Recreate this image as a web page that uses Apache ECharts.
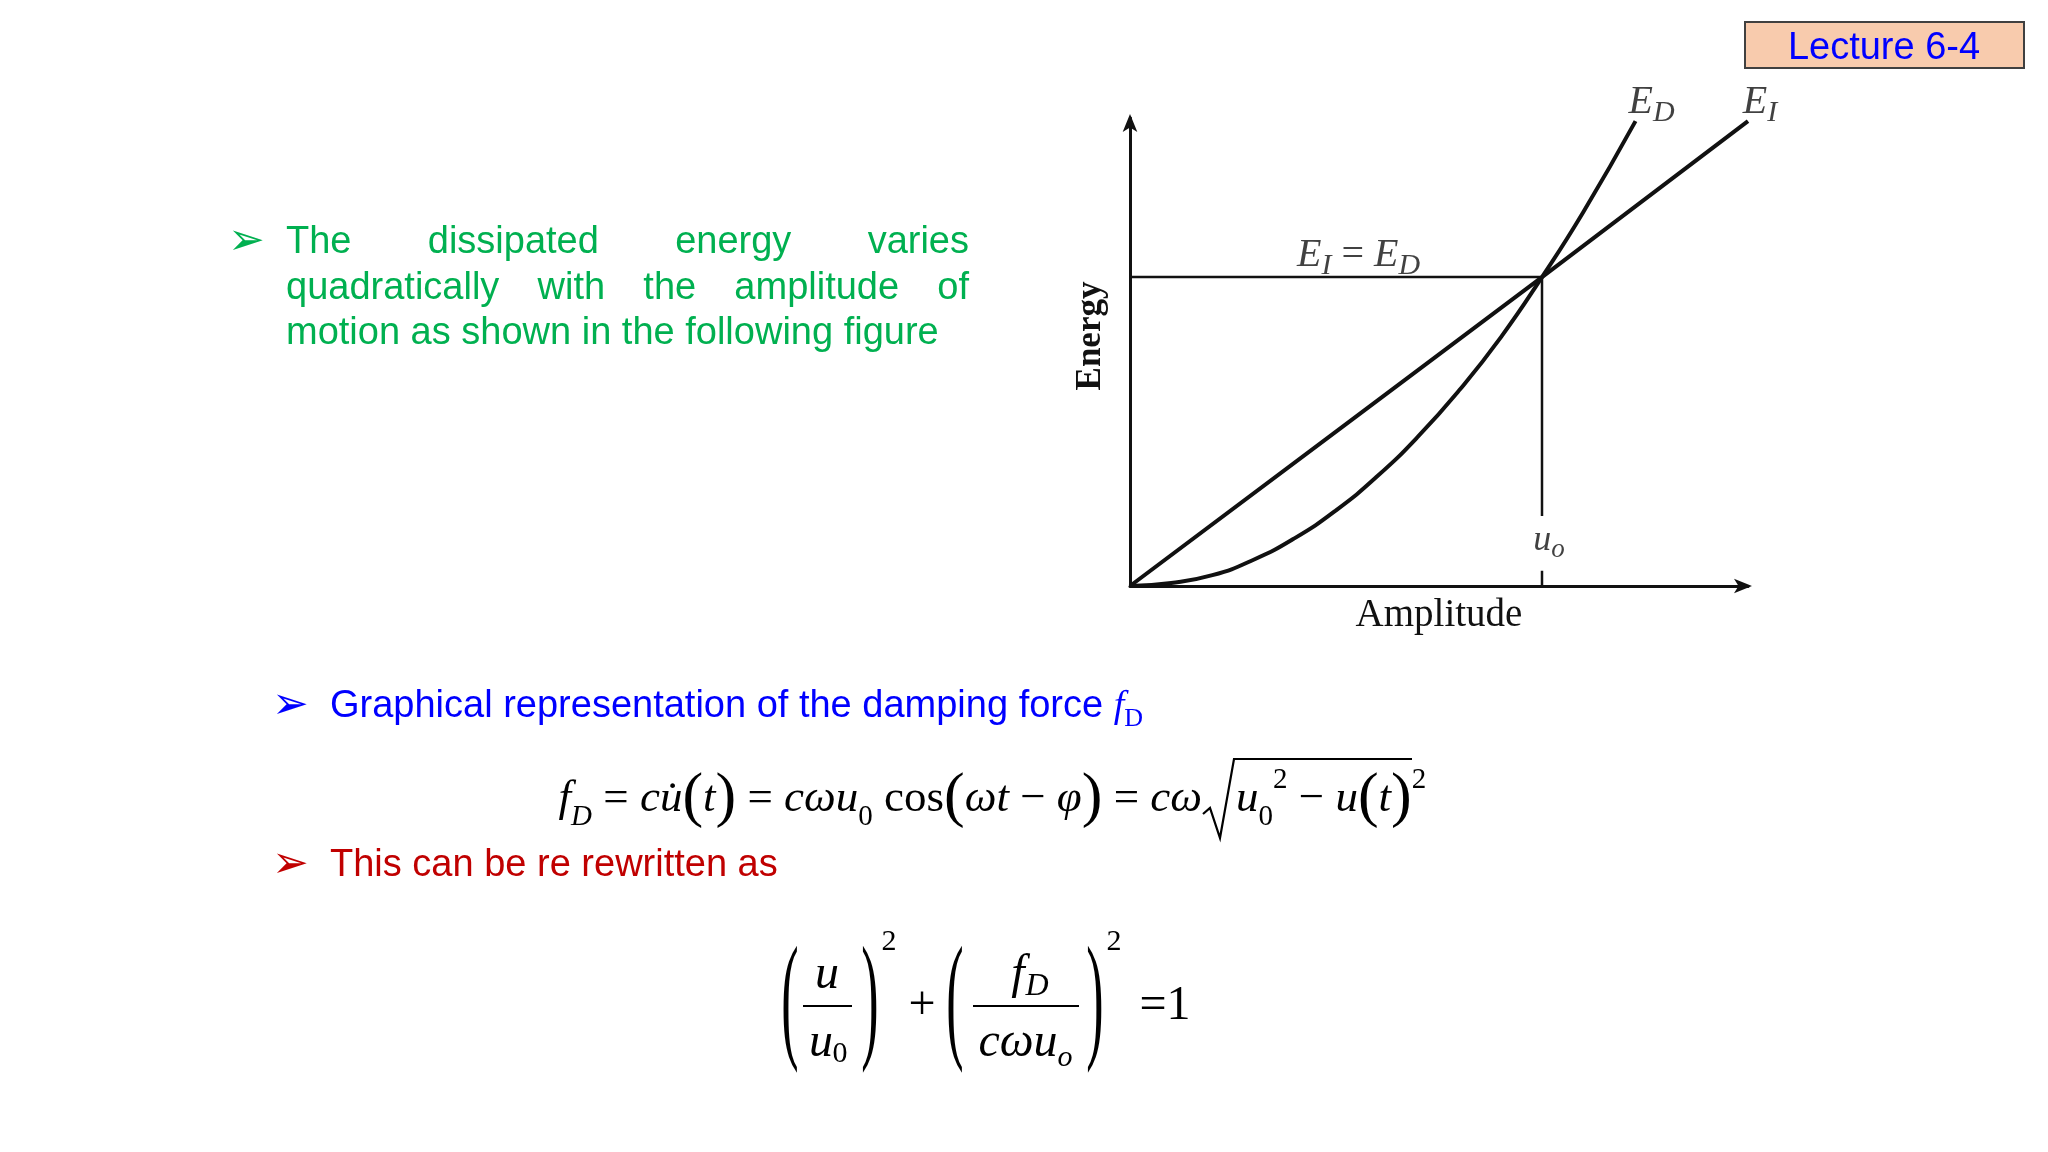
<!DOCTYPE html>
<html><head><meta charset="utf-8">
<script src="https://cdn.jsdelivr.net/npm/echarts@6/dist/echarts.min.js"></script>
<style>html,body{margin:0;padding:0;background:#fff}#c{width:2048px;height:1152px}</style>
</head><body><div id="c"></div>
<script>
// ---- data (u0 = 1, E at crossing = 1) ----
const amplitudeEI = [0, 0.5, 1.0, 1.5];
const energyEI    = [0, 0.5, 1.0, 1.505];
const amplitudeED = [0, 0.1, 0.2, 0.3, 0.4, 0.5, 0.6, 0.7, 0.8, 0.9, 1.0, 1.1, 1.227];
const energyED    = [0, 0.01, 0.035, 0.085, 0.155, 0.245, 0.355, 0.485, 0.635, 0.805, 1.0, 1.21, 1.505];
const u0 = 1.0;
const equalEnergy = 1.0;
const u0LineBottom = 0.227;
const u0TickTop = 0.049;
const u0LabelEnergy = 0.142;
const equalLabelAmp = 0.555;
const xMax = 1.5, yMax = 1.515;
const xName = 'Amplitude', yName = 'Energy';

const SERIF = '"Liberation Serif", "Times New Roman", serif';
const SANS = '"Liberation Sans", Arial, sans-serif';

const pair = (xs, ys) => xs.map((x, i) => [x, ys[i]]);

const chart = echarts.init(document.getElementById('c'));

const mathRich = (size) => ({
  e: {fontFamily: SERIF, fontStyle: 'italic', fontSize: size, color: '#111', lineHeight: size * 1.3},
  s: {fontFamily: SERIF, fontStyle: 'italic', fontSize: size * 0.75, color: '#111', lineHeight: size * 0.95, verticalAlign: 'bottom'},
  n: {fontFamily: SERIF, fontSize: size, color: '#111', lineHeight: size * 1.3}
});

// justified paragraph helper using canvas text measurement
const ctx = document.createElement('canvas').getContext('2d');
function justifyLine(words, left, right, y, font, color, justify) {
  ctx.font = font;
  const els = [];
  if (!justify) {
    els.push({type: 'text', style: {text: words.join(' '), x: left, y: y, font: font, fill: color, verticalAlign: 'middle'}});
    return els;
  }
  const widths = words.map(w => ctx.measureText(w).width);
  const total = widths.reduce((a, b) => a + b, 0);
  const gap = (right - left - total) / (words.length - 1);
  let x = left;
  words.forEach((w, i) => {
    els.push({type: 'text', style: {text: w, x: x, y: y, font: font, fill: color, verticalAlign: 'middle'}});
    x += widths[i] + gap;
  });
  return els;
}

const bodyFont = '38px ' + SANS;
const bulletFont = '44px "DejaVu Sans"';
const green = '#00B050';
const blue = '#0000FF';
const red = '#C00000';
let graphics = [];
graphics.push({type: 'text', style: {text: '➢', x: 228, y: 243, font: bulletFont, fill: green, verticalAlign: 'middle'}});
graphics = graphics.concat(justifyLine(['The', 'dissipated', 'energy', 'varies'], 286, 969, 243, bodyFont, green, true));
graphics = graphics.concat(justifyLine(['quadratically', 'with', 'the', 'amplitude', 'of'], 286, 969, 289, bodyFont, green, true));
graphics = graphics.concat(justifyLine(['motion', 'as', 'shown', 'in', 'the', 'following', 'figure'], 286, 969, 334, bodyFont, green, false));

// blue bullet
graphics.push({type: 'text', style: {text: '➢', x: 272, y: 707, font: bulletFont, fill: blue, verticalAlign: 'middle'}});
graphics.push({type: 'text', style: {
  text: '{a|Graphical representation of the damping force }{f|f}{d|D}', x: 330, y: 707, verticalAlign: 'middle',
  rich: {
    a: {fontFamily: SANS, fontSize: 38, fill: blue, lineHeight: 50},
    f: {fontFamily: SERIF, fontStyle: 'italic', fontSize: 38, fill: blue, lineHeight: 50},
    d: {fontFamily: SERIF, fontSize: 26, fill: blue, lineHeight: 34, verticalAlign: 'bottom'}
  }}});
// red bullet
graphics.push({type: 'text', style: {text: '➢', x: 272, y: 866, font: bulletFont, fill: red, verticalAlign: 'middle'}});
graphics.push({type: 'text', style: {text: 'This can be re rewritten as', x: 330, y: 866, font: bodyFont, fill: red, verticalAlign: 'middle'}});

// Lecture box
graphics.push({type: 'rect', shape: {x: 1745, y: 22, width: 279, height: 46}, style: {fill: '#F8CBAD', stroke: '#404040', lineWidth: 2}});
graphics.push({type: 'text', style: {text: 'Lecture 6-4', x: 1884, y: 49, font: '38px ' + SANS, fill: blue, align: 'center', verticalAlign: 'middle'}});

// formula 1
const F = 45;
const f1rich = {
  i: {fontFamily: SERIF, fontStyle: 'italic', fontSize: F, fill: '#000', lineHeight: 66},
  n: {fontFamily: SERIF, fontSize: F, fill: '#000', lineHeight: 66},
  p: {fontFamily: SERIF, fontSize: 62, fill: '#000', lineHeight: 66},
  sb: {fontFamily: SERIF, fontStyle: 'italic', fontSize: 29, fill: '#000', lineHeight: 40, verticalAlign: 'bottom'},
  sbn: {fontFamily: SERIF, fontSize: 29, fill: '#000', lineHeight: 40, verticalAlign: 'bottom'},
  sp: {fontFamily: SERIF, fontSize: 29, fill: '#000', lineHeight: 42, verticalAlign: 'top'}
};
graphics.push({type: 'text', style: {
  text: '{i|f}{sb|D}{n| = }{i|c}{i|u̇}{p|(}{i|t}{p|)}{n| = }{i|cωu}{sbn|0}{n| cos}{p|(}{i|ωt}{n| − }{i|φ}{p|)}{n| = }{i|cω}',
  x: 1202, y: 799, align: 'right', verticalAlign: 'middle', rich: f1rich}});
graphics.push({type: 'polyline', shape: {points: [[1203, 814], [1210, 808], [1220, 838], [1234, 759], [1412, 759]]}, style: {stroke: '#000', lineWidth: 2.2, fill: null}});
graphics.push({type: 'text', style: {
  text: '{i|u}{sbn|0}{sp|2}{n| − }{i|u}{p|(}{i|t}{p|)}{sp|2}',
  x: 1236, y: 799, align: 'left', verticalAlign: 'middle', rich: f1rich}});

// formula 2
const G = 48;
const it = (t, x, y, size) => ({type: 'text', style: {text: t, x: x, y: y, font: 'italic ' + (size || G) + 'px ' + SERIF, fill: '#000', align: 'center', verticalAlign: 'middle'}});
const up = (t, x, y, size) => ({type: 'text', style: {text: t, x: x, y: y, font: (size || G) + 'px ' + SERIF, fill: '#000', align: 'center', verticalAlign: 'middle'}});
const paren = (t, x) => ({type: 'text', x: x, y: 1006, scaleX: 1, scaleY: 2.7, style: {text: t, x: 0, y: 0, font: '52px ' + SERIF, fill: '#000', align: 'center', verticalAlign: 'middle'}});
graphics.push(paren('(', 790));
graphics.push(it('u', 827, 975));
graphics.push({type: 'line', shape: {x1: 803, y1: 1006, x2: 852, y2: 1006}, style: {stroke: '#000', lineWidth: 2}});
graphics.push(it('u', 821, 1043));
graphics.push(up('0', 840, 1054, 30));
graphics.push(paren(')', 870));
graphics.push(up('2', 889, 942, 30));
graphics.push(up('+', 922, 1006));
graphics.push(paren('(', 955));
graphics.push(it('f', 1018, 975));
graphics.push(it('D', 1037, 987, 32));
graphics.push({type: 'line', shape: {x1: 973, y1: 1006, x2: 1079, y2: 1006}, style: {stroke: '#000', lineWidth: 2}});
graphics.push(it('cωu', 1018, 1043));
graphics.push(it('o', 1065, 1058, 30));
graphics.push(paren(')', 1095));
graphics.push(up('2', 1114, 942, 30));
graphics.push(up('=1', 1165, 1006));

chart.setOption({
  animation: false,
  backgroundColor: '#fff',
  grid: {left: 1130, top: 118, right: 300, bottom: 566, containLabel: false},
  xAxis: {
    type: 'value', min: 0, max: xMax,
    name: xName, nameLocation: 'middle', nameGap: 10,
    nameTextStyle: {fontFamily: SERIF, fontSize: 39, color: '#111'},
    axisLine: {show: true, onZero: true, symbol: ['none', 'arrow'], symbolSize: [11, 18], symbolOffset: [0, 4], lineStyle: {color: '#111', width: 3}},
    axisTick: {show: false}, axisLabel: {show: false}, splitLine: {show: false}
  },
  yAxis: {
    type: 'value', min: 0, max: yMax,
    name: yName, nameLocation: 'middle', nameGap: 22, nameRotate: 90,
    nameTextStyle: {fontFamily: SERIF, fontSize: 35, fontWeight: 'bold', color: '#111', padding: [0, 0, 0, 32]},
    axisLine: {show: true, symbol: ['none', 'arrow'], symbolSize: [11, 18], symbolOffset: [0, 4], lineStyle: {color: '#111', width: 3}},
    axisTick: {show: false}, axisLabel: {show: false}, splitLine: {show: false}
  },
  series: [
    {name: 'E_I', type: 'line', data: pair(amplitudeEI, energyEI), showSymbol: false, lineStyle: {color: '#111', width: 4}, z: 3},
    {name: 'E_D', type: 'line', data: pair(amplitudeED, energyED), smooth: true, showSymbol: false, lineStyle: {color: '#111', width: 4}, z: 3},
    {name: 'equal', type: 'line', data: [[0, equalEnergy], [u0, equalEnergy]], showSymbol: false, lineStyle: {color: '#111', width: 2.5}},
    {name: 'u0line', type: 'line', data: [[u0, equalEnergy], [u0, u0LineBottom]], showSymbol: false, lineStyle: {color: '#111', width: 2.5}},
    {name: 'u0tick', type: 'line', data: [[u0, u0TickTop], [u0, 0]], showSymbol: false, lineStyle: {color: '#111', width: 2.5}},
    {name: 'labels', type: 'scatter', symbolSize: 1, itemStyle: {color: 'transparent'}, silent: true,
      data: [
        {value: [amplitudeED[amplitudeED.length - 1], energyED[energyED.length - 1]],
          label: {show: true, position: 'top', distance: 0, offset: [16, 8], formatter: '{e|E}{s|D}', rich: mathRich(40)}},
        {value: [amplitudeEI[amplitudeEI.length - 1], energyEI[energyEI.length - 1]],
          label: {show: true, position: 'top', distance: 0, offset: [12, 8], formatter: '{e|E}{s|I}', rich: mathRich(40)}},
        {value: [equalLabelAmp, equalEnergy],
          label: {show: true, position: 'top', distance: 0, offset: [0, 5], formatter: '{e|E}{s|I}{n| = }{e|E}{s|D}', rich: mathRich(40)}},
        {value: [u0, u0LabelEnergy],
          label: {show: true, position: 'inside', offset: [7, -2], formatter: '{e|u}{s|o}', rich: mathRich(36)}}
      ]}
  ],
  graphic: graphics
});
</script></body></html>
